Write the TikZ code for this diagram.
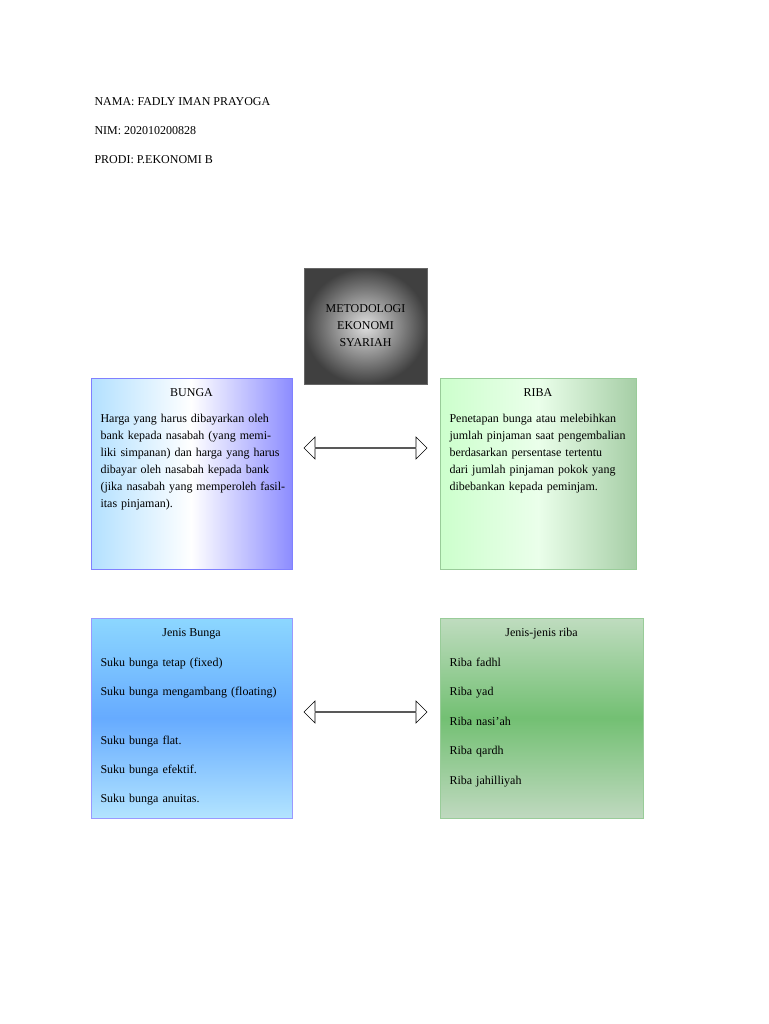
\documentclass[tikz,border=0pt]{standalone}
\usepackage{fontspec}
\setmainfont{Liberation Serif}
\usetikzlibrary{positioning}
\usetikzlibrary{shapes.arrows}
\tikzset{>=stealth}
\tikzset{
	% boxes
	infobox/.style={draw=#1!50!white, line width=0.8pt, minimum width=201pt, minimum height=191pt, anchor=north west},
	boxtext/.style={anchor=north west, text width=185pt, align=left, font=\fontsize{12}{17}\selectfont},
	listtext/.style={anchor=north west, text width=185pt, align=left, font=\fontsize{12}{14}\selectfont},
	titletext/.style={anchor=north, font=\fontsize{12}{14}\selectfont},
	dblarrow/.style={double arrow, draw=black, fill=white, line width=0.6pt, minimum width=22pt, double arrow head extend=5pt, minimum height=123pt, inner sep=0pt},
}
\begin{document}
\begin{tikzpicture}[x=1pt,y=-1pt]
	\useasboundingbox (0,0) rectangle (768,1024);
	\fill[white] (0,0) rectangle (768,1024);
	
	% header
	\node[anchor=west, font=\fontsize{12}{14}\selectfont] (nama) at (91,102) {NAMA: FADLY IMAN PRAYOGA};
	\node[anchor=west, font=\fontsize{12}{14}\selectfont] (nim) at (91,131) {NIM: 202010200828};
	\node[anchor=west, font=\fontsize{12}{14}\selectfont] (prodi) at (91,160) {PRODI: P.EKONOMI B};
	
	% top box
	\shade[inner color=gray!25, outer color=black!75] (304,268) rectangle (427,384);
	\draw[black!60, line width=0.8pt] (304,268) rectangle (427,384);
	\node[align=center, font=\fontsize{12}{17}\selectfont] (metode) at (365.5,326) {METODOLOGI\\EKONOMI\\SYARIAH};
	
	% bunga
	\shade[left color=blue!40!cyan!30, right color=blue!45, middle color=white] (91,378) rectangle (292,569);
	\node[infobox=blue] (bunga) at (91,378) {};
	\node[titletext] (bungat) at (191.5,385) {BUNGA};
	\node[boxtext] (bungab) at (97,411) {Harga yang harus dibayarkan oleh bank kepada nasabah (yang memiliki simpanan) dan harga yang harus dibayar oleh nasabah kepada bank (jika nasabah yang memperoleh fasilitas pinjaman).};
	
	% riba
	\shade[left color=green!20!white, right color=green!45!black!35, middle color=green!8!white] (440,378) rectangle (636,569);
	\draw[green!50!black!40, line width=0.8pt] (440,378) rectangle (636,569);
	\node[titletext] (ribat) at (538,385) {RIBA};
	\node[boxtext, text width=185pt] (ribab) at (446,411) {Penetapan bunga atau melebihkan jumlah pinjaman saat pengembalian berdasarkan persentase tertentu dari jumlah pinjaman pokok yang dibebankan kepada peminjam.};
	
	% jenis bunga
	\shade[top color=blue!35!cyan!45, bottom color=blue!35!cyan!30, middle color=blue!55!cyan!60] (91,618) rectangle (292,818);
	\draw[blue!40, line width=0.8pt] (91,618) rectangle (292,818);
	\node[titletext] (jbt) at (191.5,625) {Jenis Bunga};
	\node[listtext] (jb1) at (97,655) {Suku bunga tetap (fixed)};
	\node[listtext] (jb2) at (97,684) {Suku bunga mengambang (floating)};
	\node[listtext] (jb3) at (97,733) {Suku bunga flat.};
	\node[listtext] (jb4) at (97,762) {Suku bunga efektif.};
	\node[listtext] (jb5) at (97,791) {Suku bunga anuitas.};
	
	% jenis riba
	\shade[top color=green!45!black!25, bottom color=green!40!black!25, middle color=green!55!black!55] (440,618) rectangle (643,818);
	\draw[green!50!black!40, line width=0.8pt] (440,618) rectangle (643,818);
	\node[titletext] (jrt) at (541.5,625) {Jenis-jenis riba};
	\node[listtext] (jr1) at (446,655) {Riba fadhl};
	\node[listtext] (jr2) at (446,684) {Riba yad};
	\node[listtext] (jr3) at (446,714) {Riba nasi'ah};
	\node[listtext] (jr4) at (446,743) {Riba qardh};
	\node[listtext] (jr5) at (446,773) {Riba jahilliyah};
	
	% arrows
	\node[dblarrow] (arr1) at (365.5,448) {};
	\node[dblarrow] (arr2) at (365.5,712) {};
\end{tikzpicture}
\end{document}
